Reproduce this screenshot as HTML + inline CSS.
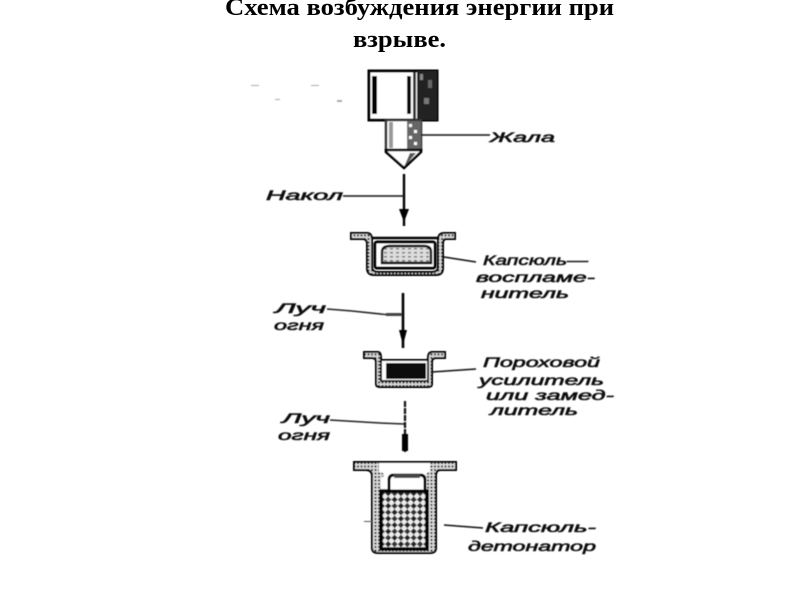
<!DOCTYPE html>
<html lang="ru">
<head>
<meta charset="utf-8">
<style>
html,body{margin:0;padding:0;background:#fff;width:800px;height:600px;overflow:hidden}
svg{display:block}
.t{font-family:"Liberation Serif","Noto Serif CJK SC",serif;font-weight:bold;font-size:24px;fill:#000}
.l{font-family:"Liberation Sans","DejaVu Sans",sans-serif;font-style:italic;font-size:14px;fill:#111;stroke:#111;stroke-width:.55}
</style>
</head>
<body>
<svg width="800" height="600" viewBox="0 0 800 600" xmlns="http://www.w3.org/2000/svg">
<defs>
<pattern id="dots" width="3.5" height="3.5" patternUnits="userSpaceOnUse">
<rect width="3.5" height="3.5" fill="#ddd"/><rect width="2" height="2" fill="#222"/>
</pattern>
<pattern id="hatch" width="9" height="9" patternUnits="userSpaceOnUse" patternTransform="rotate(45)">
<rect width="9" height="9" fill="#eee"/><rect width="4.5" height="4.5" fill="#222"/><rect x="4.5" y="4.5" width="4.5" height="4.5" fill="#333"/>
</pattern>
<pattern id="fine" width="6" height="4" patternUnits="userSpaceOnUse">
<rect width="6" height="4" fill="#ddd"/><rect width="3" height="1.5" fill="#777"/>
</pattern>
<filter id="b" x="-5%" y="-5%" width="110%" height="110%"><feGaussianBlur stdDeviation="0.5"/></filter>
</defs>

<text class="t" x="225" y="15" textLength="389" lengthAdjust="spacingAndGlyphs">Схема возбуждения энергии при</text>
<text class="t" x="353" y="47" textLength="93" lengthAdjust="spacingAndGlyphs">взрыве.</text>

<g filter="url(#b)">
<g fill="#aaa">
<rect x="251" y="85" width="8" height="1"/><rect x="311" y="85" width="8" height="1"/><rect x="275" y="99" width="5" height="1"/><rect x="337" y="100" width="5" height="2"/>
</g>

<!-- striker -->
<rect x="369" y="71" width="68" height="49" fill="#fff" stroke="#000" stroke-width="3"/>
<rect x="417" y="71" width="20" height="49" fill="#222"/>
<rect x="420" y="74" width="3" height="6" fill="#888"/><rect x="428" y="80" width="4" height="8" fill="#666"/><rect x="424" y="98" width="5" height="6" fill="#777"/>
<rect x="372" y="76" width="5" height="38" fill="#000"/>
<rect x="407" y="76" width="4" height="38" fill="#111"/>
<rect x="413" y="72" width="3" height="47" fill="#333"/>
<rect x="386" y="120" width="35" height="30" fill="#fff" stroke="#333" stroke-width="2.5"/>
<rect x="389" y="122" width="4" height="26" fill="#999"/>
<rect x="407" y="121" width="14" height="28" fill="#666"/>
<rect x="409" y="124" width="3" height="3" fill="#fff"/><rect x="414" y="130" width="3" height="3" fill="#fff"/><rect x="409" y="136" width="3" height="3" fill="#fff"/><rect x="414" y="142" width="3" height="3" fill="#fff"/>
<path d="M386 150H421V152L404 168L386 152Z" fill="#fff" stroke="#000" stroke-width="2.6"/>
<path d="M404 167L410 153H416Z" fill="#555"/>
<line x1="421" y1="135" x2="490" y2="135" stroke="#111" stroke-width="1.5"/>

<!-- arrow 1 -->
<line x1="404" y1="174" x2="404" y2="226" stroke="#000" stroke-width="2.4"/>
<path d="M399 209H409L404 222Z" fill="#000"/>
<line x1="343" y1="196" x2="404" y2="196" stroke="#111" stroke-width="1.5"/>

<!-- cap 1 -->
<path d="M351 233H367Q372 233 372 240V267Q372 272 378 272H432Q438 272 438 267V240Q438 233 444 233H455V239H446Q443 239 443 244V268Q443 275 436 275H374Q367 275 367 268V244Q367 239 363 239H351Z" fill="url(#dots)" stroke="#000" stroke-width="2"/>
<path d="M372 238H438" stroke="#000" stroke-width="2.5" fill="none"/>
<rect x="375" y="242" width="60" height="26" rx="2" fill="#fff" stroke="#000" stroke-width="3"/>
<path d="M382 263V252Q382 246 390 246H424Q431 246 431 252V263Z" fill="url(#fine)" stroke="#000" stroke-width="2.4"/>
<line x1="444" y1="257" x2="476" y2="262" stroke="#111" stroke-width="1.5"/>

<!-- arrow 2 -->
<line x1="403" y1="293" x2="403" y2="348" stroke="#000" stroke-width="2.6"/>
<path d="M399 330H407L403 345Z" fill="#000"/>
<path d="M327 309L352 311L390 315" fill="none" stroke="#222" stroke-width="1.5"/>
<rect x="386" y="313" width="16" height="3" fill="#444"/>

<!-- cap 2 -->
<path d="M364 352H378Q381 352 381 358V380H428V358Q428 352 432 352H445V358H436Q432 358 432 362V384Q432 387 428 387H380Q376 387 376 384V362Q376 358 372 358H364Z" fill="url(#dots)" stroke="#000" stroke-width="2"/>
<rect x="381" y="360" width="47" height="21" fill="#fff" stroke="#000" stroke-width="2"/>
<rect x="386" y="363" width="40" height="16" fill="#111"/>
<line x1="432" y1="372" x2="476" y2="369" stroke="#111" stroke-width="1.5"/>

<!-- arrow 3 -->
<line x1="405" y1="401" x2="405" y2="452" stroke="#111" stroke-width="2.2" stroke-dasharray="6 1"/>
<rect x="402" y="434" width="6" height="17" fill="#000"/>
<path d="M330 420L380 423L404 424" fill="none" stroke="#222" stroke-width="1.5"/>

<!-- cap 3 -->
<path d="M354 462H456V470H440Q436 470 436 476V548Q436 553 430 553H378Q372 553 372 548V476Q372 470 366 470H354Z" fill="url(#dots)" stroke="#000" stroke-width="2"/>
<path d="M379 463H430V472Q426 472 426 476V478H384V476Q384 472 379 472Z" fill="#fff"/>
<rect x="381" y="477" width="46" height="70" fill="#fff"/>
<rect x="381" y="491" width="46" height="58" fill="url(#hatch)" stroke="#000" stroke-width="3.5"/>
<path d="M389 491V480Q389 475 394 475H420Q425 475 425 480V491Z" fill="#fff" stroke="#000" stroke-width="3"/>
<rect x="394" y="474" width="26" height="4" fill="#444"/>
<rect x="364" y="521" width="8" height="1" fill="#555"/>
<line x1="444" y1="525" x2="483" y2="528" stroke="#111" stroke-width="1.5"/>

<!-- labels -->
<text class="l" x="490" y="142" textLength="65" lengthAdjust="spacingAndGlyphs">Жала</text>
<text class="l" x="266" y="200" textLength="77" lengthAdjust="spacingAndGlyphs">Накол</text>
<text class="l" x="483" y="265" textLength="105" lengthAdjust="spacingAndGlyphs">Капсюль—</text>
<text class="l" x="476" y="282" textLength="119" lengthAdjust="spacingAndGlyphs">воспламе-</text>
<text class="l" x="481" y="298" textLength="88" lengthAdjust="spacingAndGlyphs">нитель</text>
<text class="l" x="275" y="313" textLength="51" lengthAdjust="spacingAndGlyphs">Луч</text>
<text class="l" x="274" y="330" textLength="50" lengthAdjust="spacingAndGlyphs">огня</text>
<text class="l" x="483" y="367" textLength="117" lengthAdjust="spacingAndGlyphs">Пороховой</text>
<text class="l" x="479" y="385" textLength="125" lengthAdjust="spacingAndGlyphs">усилитель</text>
<text class="l" x="486" y="400" textLength="128" lengthAdjust="spacingAndGlyphs">или замед-</text>
<text class="l" x="490" y="415" textLength="88" lengthAdjust="spacingAndGlyphs">литель</text>
<text class="l" x="282" y="423" textLength="48" lengthAdjust="spacingAndGlyphs">Луч</text>
<text class="l" x="278" y="440" textLength="52" lengthAdjust="spacingAndGlyphs">огня</text>
<text class="l" x="485" y="532" textLength="111" lengthAdjust="spacingAndGlyphs">Капсюль-</text>
<text class="l" x="468" y="551" textLength="128" lengthAdjust="spacingAndGlyphs">детонатор</text>
</g>
</svg>
</body>
</html>
